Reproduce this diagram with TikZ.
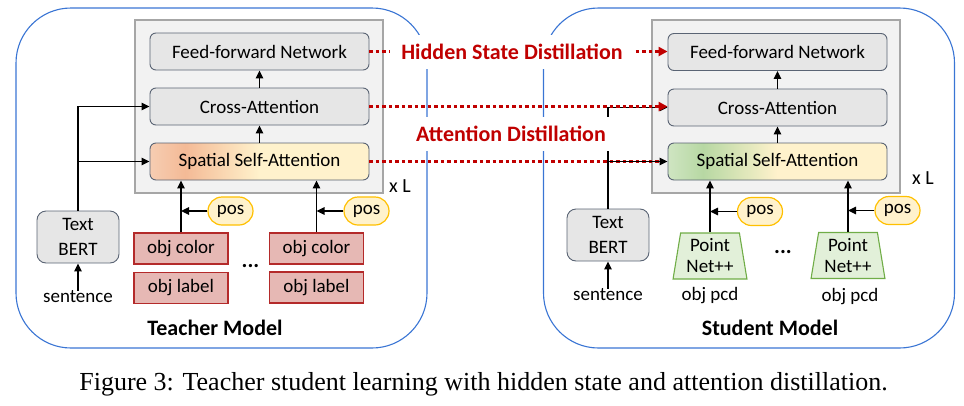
\documentclass[tikz,border=0pt]{standalone}
\usepackage{fontspec}
\setmainfont{Carlito}
\newfontfamily\capfont{Liberation Serif}
\usetikzlibrary{shapes.geometric,arrows.meta}
\definecolor{outerblue}{HTML}{3A75D4}
\definecolor{grayf}{HTML}{F2F2F2}
\definecolor{grayb}{HTML}{A6A6A6}
\definecolor{modf}{HTML}{E6E6E6}
\definecolor{modb}{HTML}{5A6474}
\definecolor{cream}{HTML}{FFF2CC}
\definecolor{gold}{HTML}{FFC000}
\definecolor{objf}{HTML}{E6B8B4}
\definecolor{objb}{HTML}{B42A2A}
\definecolor{pnf}{HTML}{E2F0D9}
\definecolor{pnb}{HTML}{70AD47}
\definecolor{distred}{HTML}{C00000}
\definecolor{tsa}{HTML}{F6CDB2}
\definecolor{tsb}{HTML}{F4BA96}
\definecolor{ssa}{HTML}{CFE5C2}
\definecolor{ssb}{HTML}{B7D8A3}
\pgfdeclarehorizontalshading{tshade}{100bp}{color(0bp)=(tsa); color(25bp)=(tsa); color(33bp)=(tsb); color(50bp)=(cream); color(100bp)=(cream)}
\pgfdeclarehorizontalshading{sshade}{100bp}{color(0bp)=(ssa); color(25bp)=(ssa); color(33bp)=(ssb); color(50bp)=(cream); color(100bp)=(cream)}
\tikzset{
  outerbox/.style={draw=outerblue, line width=1.1pt, rounded corners=55pt, minimum width=411pt, minimum height=340pt},
  graybox/.style={draw=grayb, fill=grayf, line width=1.2pt, minimum width=248pt, minimum height=173pt},
  modbox/.style={draw=modb, fill=modf, line width=0.9pt, rounded corners=6pt, minimum width=219pt, minimum height=37pt, inner sep=0pt, font=\fontsize{19}{23}\selectfont},
  bertbox/.style={draw=modb, fill=modf, line width=0.9pt, rounded corners=9pt, minimum width=82pt, minimum height=52pt, inner sep=0pt, align=center, font=\fontsize{19}{25}\selectfont},
  posbox/.style={draw=gold, fill=cream, line width=1.2pt, rounded corners=14pt, minimum width=45pt, minimum height=28pt, inner sep=0pt, font=\fontsize{19}{23}\selectfont},
  objbox/.style={draw=objb, fill=objf, line width=1.1pt, minimum width=94pt, minimum height=31pt, inner sep=0pt, font=\fontsize{19}{23}\selectfont},
  pnbox/.style={shape=trapezium, trapezium left angle=80, trapezium right angle=80, trapezium stretches=true, draw=pnb, fill=pnf, line width=1.1pt, minimum width=74pt, minimum height=46pt, inner sep=0pt, align=center, font=\fontsize{19}{21}\selectfont},
  plain/.style={inner sep=0pt, font=\fontsize{19}{23}\selectfont},
  dotsnode/.style={inner sep=0pt, font=\fontsize{22}{26}\selectfont\bfseries},
  xl/.style={inner sep=0pt, font=\fontsize{20}{23}\selectfont},
  title/.style={inner sep=0pt, font=\fontsize{22}{26}\selectfont\bfseries},
  distlabel/.style={fill=white, text=distred, inner xsep=11pt, inner ysep=9pt, font=\fontsize{22}{26}\selectfont\bfseries},
  arr/.style={line width=1.3pt, -{Triangle[length=8pt,width=7.5pt]}},
  redarr/.style={draw=distred, line width=2.8pt, dash pattern=on 3.5pt off 3pt, -{Triangle[length=9pt,width=9pt]}},
  redline/.style={draw=distred, line width=2.8pt, dash pattern=on 3.5pt off 3pt}
}
\begin{document}
\begin{tikzpicture}[x=1pt,y=-1pt]
\useasboundingbox (0,0) rectangle (964,405);
% outer boxes
\node[outerbox] (tbox) at (221.5,178) {};
\node[outerbox] (sbox) at (749,178) {};
% teacher
\node[graybox] (tgray) at (259,106.5) {};
\node[modbox] (tffn) at (259.5,51.5) {Feed-forward Network};
\node[modbox] (tca) at (259.5,106.5) {Cross-Attention};
\node[modbox, shading=tshade] (tssa) at (259.5,161.5) {Spatial Self-Attention};
\node[xl] (txl) at (400,186) {x L};
\node[bertbox] (tbert) at (78,237) {Text\\BERT};
\node[plain] (tsent) at (78,297) {sentence};
\node[posbox] (tpos1) at (230.5,211) {pos};
\node[posbox] (tpos2) at (366.5,211) {pos};
\node[objbox] (tcol1) at (181,248.5) {obj color};
\node[objbox] (tlab1) at (181,288) {obj label};
\node[objbox] (tcol2) at (316.5,248.5) {obj color};
\node[objbox] (tlab2) at (316.5,287.5) {obj label};
\node[dotsnode] (tdots) at (250.5,266) {...};
\node[title] (ttitle) at (215,328) {Teacher Model};
% student
\node[graybox] (sgray) at (776,106.5) {};
\node[modbox] (sffn) at (777.5,52) {Feed-forward Network};
\node[modbox] (sca) at (777.5,107.5) {Cross-Attention};
\node[modbox, shading=sshade] (sssa) at (777.5,161.5) {Spatial Self-Attention};
\node[xl] (sxl) at (923,178) {x L};
\node[bertbox] (sbert) at (608,235) {Text\\BERT};
\node[plain] (ssent) at (608,295) {sentence};
\node[posbox] (spos1) at (760,211.5) {pos};
\node[posbox] (spos2) at (897.5,210.5) {pos};
\node[pnbox] (spn1) at (710,256) {Point\\Net++};
\node[pnbox] (spn2) at (848,255.5) {Point\\Net++};
\node[plain] (spcd1) at (710,296) {obj pcd};
\node[plain] (spcd2) at (850,297) {obj pcd};
\node[dotsnode] (sdots) at (783,252) {...};
\node[title] (stitle) at (770,328) {Student Model};
% internal arrows
\draw[arr] (tca.north) -- (tffn.south);
\draw[arr] (tssa.north) -- (tca.south);
\draw[arr] (sca.north) -- (sffn.south);
\draw[arr] (sssa.north) -- (sca.south);
\draw[arr] (tsent.north) -- (tbert.south);
\draw[arr] (ssent.north) -- (sbert.south);
\draw[arr] (tbert.north) -- (tbert.north |- tca.west) -- (tca.west);
\draw[arr] (tbert.north |- tssa.west) -- (tssa.west);
\draw[arr] (sbert.north) -- (sbert.north |- sca.west) -- (sca.west);
\draw[arr] (tcol1.north) -- (tcol1.north |- tssa.south);
\draw[arr] (tcol2.north) -- (tcol2.north |- tssa.south);
\draw[arr] (tpos1.west) -- (tpos1.west -| tcol1.north);
\draw[arr] (tpos2.west) -- (tpos2.west -| tcol2.north);
\draw[arr] (spn1.north) -- (spn1.north |- sssa.south);
\draw[arr] (spn2.north) -- (spn2.north |- sssa.south);
\draw[arr] (spos1.west) -- (spos1.west -| spn1.north);
\draw[arr] (spos2.west) -- (spos2.west -| spn2.north);
% distillation lines
\draw[redarr] (tffn.east) -- (tffn.east -| sffn.west);
\draw[redarr] (tca.east) -- (tca.east -| sca.west);
\draw[redline, shorten >=9pt] (tssa.east) -- (tssa.east -| sssa.west);
\draw[arr] (sbert.north |- sssa.west) -- (sssa.west);
\node[distlabel] (hsd) at (512,52) {Hidden State Distillation};
\node[distlabel] (ad) at (511,134) {Attention Distillation};
% caption
\node[inner sep=0pt, font=\capfont\fontsize{26}{30}\selectfont] (cap) at (483.5,384) {Figure 3: Teacher student learning with hidden state and attention distillation.};
\end{tikzpicture}
\end{document}
